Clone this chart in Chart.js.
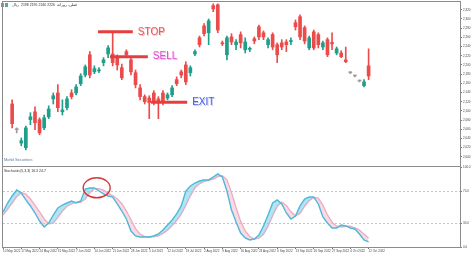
<!DOCTYPE html>
<html>
<head>
<meta charset="utf-8">
<script src="https://cdn.jsdelivr.net/npm/chart.js@4.4.0/dist/chart.umd.min.js"></script>
<style>
  html, body { margin: 0; padding: 0; background: #fff; }
  #wrap { position: relative; width: 474px; height: 256px; overflow: hidden; }
  #main { position: absolute; left: 0; top: 0; }
  #osc { position: absolute; left: 0; top: 160px; }
</style>
</head>
<body>
<div id="wrap">
  <canvas id="main" width="474" height="167"></canvas>
  <canvas id="osc" width="474" height="96"></canvas>
</div>
<script>
// bar index 0..80, first two bars have no visible candle
const opens = [null, null, 2115, 2059, 2030, 2020, 2081, 2098, 2081, 2063,
  2087, 2126, 2139, 2098, 2107, 2139, 2139, 2159, 2178, 2222,
  2185, 2187, 2205, 2224, 2224, 2216, 2194, 2229, 2211, 2183,
  2150, 2131, 2128, 2139, 2126, 2139, 2128, 2135, 2168, 2185,
  2200, 2183, 2224, 2259, 2285, 2270, 2329, 2331, 2248, 2222,
  2261, 2244, 2266, 2233, 2234, 2257, 2283, 2270, 2244, 2266,
  2244, 2248, 2250, 2251, 2292, 2305, 2281, 2237, 2272, 2266,
  2239, 2255, 2249, 2226, 2226, 2211, 2183, 2176, 2165, 2155,
  2198];
const closes = [null, null, 2072, 2059, 2035, 2063, 2087, 2074, 2052, 2085,
  2104, 2133, 2107, 2102, 2126, 2131, 2152, 2176, 2196, 2178,
  2192, 2189, 2211, 2237, 2205, 2200, 2172, 2222, 2185, 2157,
  2131, 2120, 2118, 2118, 2118, 2118, 2135, 2150, 2159, 2178,
  2163, 2194, 2229, 2244, 2268, 2296, 2322, 2276, 2246, 2259,
  2250, 2250, 2248, 2250, 2235, 2252, 2261, 2261, 2255, 2239,
  2222, 2239, 2244, 2252, 2283, 2261, 2252, 2259, 2237, 2244,
  2248, 2222, 2246, 2235, 2218, 2207, 2183, 2176, 2165, 2163,
  2176];
const highs = [null, null, 2124, 2063, 2041, 2067, 2096, 2109, 2085, 2091,
  2111, 2139, 2157, 2124, 2131, 2146, 2157, 2181, 2200, 2229,
  2198, 2194, 2216, 2242, 2272, 2222, 2202, 2233, 2218, 2189,
  2157, 2135, 2133, 2144, 2131, 2144, 2139, 2155, 2174, 2189,
  2207, 2198, 2233, 2263, 2290, 2300, 2333, 2333, 2252, 2263,
  2268, 2255, 2272, 2259, 2239, 2261, 2287, 2274, 2259, 2270,
  2248, 2255, 2255, 2259, 2298, 2309, 2285, 2263, 2276, 2270,
  2252, 2259, 2270, 2239, 2231, 2239, 2185, 2177, 2167, 2168,
  2235];
const lows = [null, null, 2063, 2052, 2024, 2015, 2070, 2059, 2048, 2059,
  2083, 2115, 2098, 2091, 2102, 2126, 2135, 2155, 2174, 2172,
  2181, 2183, 2198, 2216, 2198, 2189, 2168, 2218, 2178, 2150,
  2124, 2115, 2083, 2113, 2083, 2113, 2124, 2131, 2155, 2172,
  2157, 2176, 2220, 2239, 2263, 2244, 2316, 2270, 2242, 2211,
  2244, 2233, 2237, 2226, 2229, 2246, 2255, 2255, 2237, 2233,
  2205, 2233, 2229, 2244, 2276, 2255, 2246, 2233, 2233, 2237,
  2233, 2218, 2233, 2222, 2216, 2205, 2181, 2174, 2163, 2152,
  2168];

// oscillator, fast and slow line
const fastLine = [43.8, 55, 63.8, 71.3, 67.5, 58.8, 51.3, 42.5, 32.5, 25,
  30, 40, 48.8, 52.5, 55, 57.5, 55, 57.5, 72.5, 73.8,
  73.8, 70, 66.3, 63.8, 62.5, 53.8, 45, 35, 20, 13.8,
  12.5, 12.5, 12.5, 13.8, 16.3, 21.3, 27.5, 33.8, 41.3, 51.3,
  70, 76.3, 80, 82.5, 83.8, 83.8, 87.5, 91.3, 87.5, 70,
  46.3, 31.3, 17.5, 11.3, 8.8, 10, 15, 26.3, 40, 55,
  58.8, 53.8, 42.5, 35, 38.8, 51.3, 60, 62.5, 62.5, 53.8,
  37.5, 30, 23.8, 23.8, 27.5, 26.3, 23.8, 22.5, 16.3, 8.8,
  6.3];
const slowLine = [40, 47, 55, 63, 68, 66, 60, 52, 44, 35,
  29, 30, 37, 45, 51, 54, 56, 56, 60, 68,
  73, 73, 71, 67, 64, 60, 54, 45, 34, 23,
  16, 13, 12.5, 13, 14, 17, 21, 27, 33, 41,
  52, 64, 74, 79, 82, 83.5, 85, 88, 89, 84,
  68, 49, 32, 20, 13, 10, 11, 16, 26, 39,
  51, 56, 52, 44, 39, 42, 51, 58, 62, 61,
  52, 40, 31, 26, 25, 26, 26, 24, 21, 16,
  11];

const priceTicks = [2320, 2300, 2280, 2260, 2240, 2220, 2200, 2180, 2160,
  2140, 2120, 2100, 2080, 2060, 2040, 2020, 2000];
const oscTicks = [0, 30, 70, 100];
const oscLevels = [30, 70];
const dateLabels = ['10 May 2022', '17 May 2022', '24 May 2022', '31 May 2022',
  '7 Jun 2022', '14 Jun 2022', '21 Jun 2022', '28 Jun 2022', '5 Jul 2022',
  '12 Jul 2022', '19 Jul 2022', '2 Aug 2022', '9 Aug 2022', '16 Aug 2022',
  '23 Aug 2022', '6 Sep 2022', '13 Sep 2022', '20 Sep 2022', '27 Sep 2022',
  '4 Oct 2022', '12 Oct 2022'];

// trade marks drawn on the price chart
const signalNames = ['STOP', 'SELL', 'EXIT'];
const signalLevels = [2272, 2218, 2119];
const signalFrom = [20.8, 23.4, 32.4];
const signalTo = [28.4, 31.7, 40.3];

// circled cross on the oscillator
const circleBar = 20.5;
const circleValue = 74;

const UP = '#1f9e89';
const DOWN = '#ec4b4b';
const DOJI = '#9c9c9c';
const FONT = '"Liberation Sans", Arial, sans-serif';

function corVela(k) {
  if (closes[k] > opens[k]) return UP;
  if (closes[k] < opens[k]) return DOWN;
  return DOJI;
}

const corpos = [];
const pavios = [];
const coresVela = [];
opens.forEach((o, k) => {
  if (o === null) return;
  corpos.push({ x: k, y: [o, closes[k]] });
  pavios.push({ x: k, y: [lows[k], highs[k]] });
  coresVela.push(corVela(k));
});

const signalColors = ['#ec5757', '#dc4ccd', '#4a5de6'];
const signalShadow = ['#f6b8b8', '#f0b6e8', '#bcc3f4'];

const linhasSinal = signalNames.map((n, i) => ({
  type: 'line',
  data: [{ x: signalFrom[i], y: signalLevels[i] }, { x: signalTo[i], y: signalLevels[i] }],
  borderColor: '#e63e3e',
  borderWidth: 3,
  borderCapStyle: 'butt',
  pointRadius: 0,
  order: 0
}));

const moldura = {
  id: 'moldura',
  afterDraw(chart) {
    const a = chart.chartArea;
    const c = chart.ctx;
    c.save();
    c.strokeStyle = '#8c8c8c';
    c.lineWidth = 1;
    c.strokeRect(a.left - 0.5, a.top - 0.5, a.right - a.left + 1, a.bottom - a.top + 1);
    c.restore();
  }
};

const textosPreco = {
  id: 'textosPreco',
  afterDatasetsDraw(chart) {
    const c = chart.ctx;
    const xs = chart.scales.x;
    const ys = chart.scales.y;
    c.save();
    // header
    c.fillStyle = '#e07070';
    c.fillRect(1, 3, 3, 4);
    c.fillStyle = '#4fa9a9';
    c.fillRect(5, 3, 3, 4);
    c.fillStyle = '#333';
    c.font = '3.5px ' + FONT;
    c.textBaseline = 'middle';
    c.fillText('فملی، روزانه  2226 2240 2195 2198  ریال', 12, 5.5);
    // watermark
    c.fillStyle = '#5b7c9c';
    c.font = '4px ' + FONT;
    c.fillText('Mofid Securities', 4, 160);
    // signal labels
    c.font = '10px ' + FONT;
    signalNames.forEach((name, i) => {
      const x = xs.getPixelForValue(signalTo[i]) + 5;
      const y = ys.getPixelForValue(signalLevels[i]);
      c.fillStyle = signalShadow[i];
      c.fillText(name, x + 0.9, y + 0.9);
      c.fillStyle = signalColors[i];
      c.fillText(name, x, y);
    });
    c.restore();
  }
};

const textosOsc = {
  id: 'textosOsc',
  beforeDatasetsDraw(chart) {
    const c = chart.ctx;
    const a = chart.chartArea;
    const ys = chart.scales.y;
    c.save();
    c.strokeStyle = '#c4c4c4';
    c.lineWidth = 1;
    c.setLineDash([2, 2]);
    oscLevels.forEach(v => {
      const y = Math.round(ys.getPixelForValue(v)) + 0.5;
      c.beginPath();
      c.moveTo(a.left, y);
      c.lineTo(a.right, y);
      c.stroke();
    });
    c.restore();
  },
  afterDatasetsDraw(chart) {
    const c = chart.ctx;
    const a = chart.chartArea;
    const xs = chart.scales.x;
    const ys = chart.scales.y;
    c.save();
    c.fillStyle = '#333';
    c.font = '3.5px ' + FONT;
    c.textBaseline = 'middle';
    c.fillText('Stochastic(5,3,3) 16.3 24.7', a.left + 1, a.top + 4);
    c.strokeStyle = '#d23a3a';
    c.lineWidth = 1.4;
    c.beginPath();
    c.ellipse(xs.getPixelForValue(circleBar), ys.getPixelForValue(circleValue), 13.5, 10, 0, 0, Math.PI * 2);
    c.stroke();
    c.restore();
  }
};

new Chart(document.getElementById('main').getContext('2d'), {
  type: 'bar',
  data: {
    datasets: [
      ...linhasSinal,
      {
        data: corpos,
        backgroundColor: coresVela,
        barThickness: 3,
        minBarLength: 1,
        grouped: false,
        order: 1
      },
      {
        data: pavios,
        backgroundColor: coresVela,
        barThickness: 1,
        grouped: false,
        order: 2
      }
    ]
  },
  options: {
    responsive: false,
    animation: false,
    devicePixelRatio: 1,
    layout: { padding: { left: 3, top: 2, right: 0, bottom: 1 } },
    plugins: { legend: { display: false }, tooltip: { enabled: false } },
    scales: {
      x: { type: 'linear', min: 0, max: 100, offset: false, display: false },
      y: {
        position: 'right',
        min: 1980,
        max: 2337,
        afterBuildTicks: s => { s.ticks = priceTicks.map(v => ({ value: v })); },
        afterFit: s => { s.width = 14; s.paddingTop = 0; s.paddingBottom = 0; },
        grid: { drawOnChartArea: false, tickLength: 2, color: '#777' },
        border: { color: '#8c8c8c' },
        ticks: { font: { size: 3, family: FONT }, color: '#444', padding: 1 }
      }
    }
  },
  plugins: [moldura, textosPreco]
});

new Chart(document.getElementById('osc').getContext('2d'), {
  type: 'line',
  data: {
    datasets: [
      {
        data: fastLine.map((v, k) => ({ x: k, y: v })),
        borderColor: '#4db8da',
        borderWidth: 1.4,
        pointRadius: 0,
        tension: 0,
        fill: { target: 1, above: 'rgba(118,204,230,0.55)', below: 'rgba(247,188,206,0.55)' }
      },
      {
        data: slowLine.map((v, k) => ({ x: k, y: v })),
        borderColor: '#f1a9be',
        borderWidth: 1.4,
        pointRadius: 0,
        tension: 0,
        fill: false
      }
    ]
  },
  options: {
    responsive: false,
    animation: false,
    devicePixelRatio: 1,
    layout: { padding: { left: 3, top: 7, right: 0, bottom: 0 } },
    plugins: { legend: { display: false }, tooltip: { enabled: false } },
    scales: {
      x: {
        type: 'linear',
        min: 0,
        max: 100,
        offset: false,
        afterBuildTicks: s => { s.ticks = dateLabels.map((_, m) => ({ value: m * 4 })); },
        afterFit: s => { s.height = 9; s.paddingLeft = 0; s.paddingRight = 0; },
        grid: { drawOnChartArea: false, tickLength: 2, color: '#777' },
        border: { color: '#8c8c8c' },
        ticks: {
          autoSkip: false,
          maxRotation: 0,
          minRotation: 0,
          align: 'start',
          padding: 0,
          font: { size: 3, family: FONT },
          color: '#444',
          callback: (v, i) => dateLabels[i]
        }
      },
      y: {
        position: 'right',
        min: 0,
        max: 100,
        afterBuildTicks: s => { s.ticks = oscTicks.map(v => ({ value: v })); },
        afterFit: s => { s.width = 14; s.paddingTop = 0; s.paddingBottom = 0; },
        grid: { drawOnChartArea: false, tickLength: 2, color: '#777' },
        border: { color: '#8c8c8c' },
        ticks: { font: { size: 3, family: FONT }, color: '#444', padding: 1, callback: v => v.toFixed(1) }
      }
    }
  },
  plugins: [moldura, textosOsc]
});
</script>
</body>
</html>
